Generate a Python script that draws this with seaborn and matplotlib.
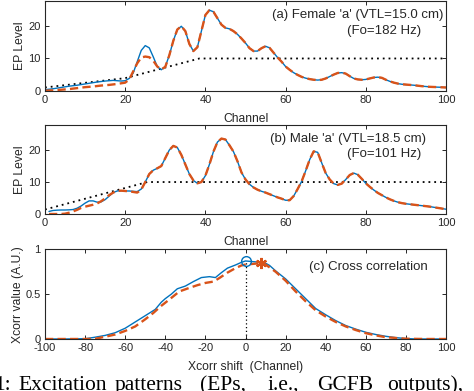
import matplotlib
matplotlib.use('Agg')
import matplotlib.pyplot as plt
import pandas as pd
import seaborn as sns

# ---------------- data ----------------
# Panel (a): Female 'a'
chan_a = list(range(0, 91)) + [92, 94, 96, 98, 100]
blue_a = [0.3, 0.45, 0.6, 0.8, 1.0, 1.2, 1.4, 1.55, 1.7, 1.9,
          2.1, 2.3, 2.5, 2.7, 2.85, 3.0, 3.1, 3.2, 3.1, 3.0,
          3.1, 3.8, 5.5, 9.0, 12.5, 14.0, 13.3, 10.5, 7.5, 6.5,
          7.5, 11.0, 15.5, 19.0, 20.0, 18.5, 14.5, 12.3, 13.5, 18.5,
          23.5, 25.0, 24.5, 22.5, 20.5, 19.5, 19.2, 18.5, 17.5, 16.2,
          14.8, 13.2, 12.3, 12.3, 13.2, 13.8, 13.3, 11.8, 10.3, 9.0,
          7.5, 6.5, 5.6, 4.9, 4.3, 3.9, 3.6, 3.4, 3.3, 3.4,
          3.8, 4.4, 5.0, 5.5, 5.6, 5.3, 4.5, 3.8, 3.5, 3.4,
          3.5, 3.8, 4.1, 4.2, 4.0, 3.4, 2.9, 2.5, 2.2, 2.0,
          1.9, 1.7, 1.4, 1.2, 1.1, 1.0]
orange_a_low_x = [0, 2, 4, 6, 8, 10, 12, 14, 16, 18, 20, 21, 22, 23, 24, 25, 26, 27, 28, 29, 30]
orange_a_low = [0.0, 0.1, 0.3, 0.5, 0.8, 1.1, 1.3, 1.6, 1.8, 2.1, 2.5, 3.5, 6.0, 8.5,
                10.3, 10.6, 10.4, 9.3, 7.5, 6.6, 7.4]
thr_a_x = [0, 20, 38.5, 100]
thr_a = [1.0, 3.9, 10.0, 10.0]

# Panel (b): Male 'a'
chan_b = list(range(1, 91)) + [92, 94, 96, 98, 100]
blue_b = [0.8, 1.1, 1.2, 1.25, 1.25, 1.3, 1.4, 1.8, 2.5, 3.4,
          4.1, 4.1, 3.7, 3.8, 4.5, 5.6, 6.7, 7.2, 7.3, 7.2,
          7.2, 7.1, 7.0, 7.8, 10.0, 12.5, 13.7, 14.3, 15.0, 17.5,
          20.0, 21.3, 20.8, 18.5, 15.5, 12.5, 10.5, 9.6, 10.0, 12.0,
          15.5, 19.5, 22.5, 23.6, 23.3, 21.5, 19.5, 16.5, 13.0, 10.8,
          9.3, 8.3, 7.6, 7.1, 6.7, 6.2, 5.7, 5.2, 4.8, 4.3,
          4.3, 5.6, 7.8, 10.2, 13.5, 17.0, 19.6, 19.3, 16.0, 12.8,
          10.8, 9.5, 9.1, 9.5, 10.8, 12.2, 12.8, 12.3, 11.0, 9.6,
          8.5, 7.5, 6.6, 5.9, 5.2, 4.6, 4.1, 3.7, 3.4, 3.2,
          2.9, 2.6, 2.3, 1.9, 1.5]
orange_b_low_x = list(range(1, 25))
orange_b_low = [0.0, 0.0, 0.0, 0.0, 0.1, 0.4, 0.8, 1.3, 1.9, 2.3,
                2.6, 2.9, 3.3, 4.0, 4.9, 5.9, 6.7, 7.2, 7.3, 7.2,
                7.1, 6.9, 6.7, 7.6]
thr_b_x = [0, 25.5, 100]
thr_b = [1.4, 10.0, 10.0]

# Panel (c): cross correlation
shift_blue = [-100, -90, -80, -75, -70, -65, -60, -55, -50, -45, -42, -40, -37, -34,
              -30, -26, -22, -18, -15, -12, -9, -5, -2, 0, 5, 10, 12, 15, 20, 25,
              30, 35, 40, 45, 50, 55, 60, 65, 70, 75, 80, 85, 90, 100]
xcorr_blue = [0.0, 0.0, 0.003, 0.02, 0.04, 0.07, 0.12, 0.19, 0.26, 0.33, 0.41, 0.45, 0.50, 0.56,
              0.59, 0.64, 0.685, 0.695, 0.685, 0.74, 0.79, 0.825, 0.855, 0.87, 0.86, 0.845, 0.82,
              0.76, 0.67, 0.56, 0.45, 0.34, 0.27, 0.205, 0.15, 0.11, 0.075, 0.05, 0.03, 0.015,
              0.005, 0.0, 0.0, 0.0]
shift_orange = [-100, -90, -80, -75, -70, -65, -60, -55, -50, -46, -42, -38, -33, -28,
                -24, -20, -16, -13, -9, -5, -2, 0, 5, 7.5, 10, 15, 20, 25, 30, 35,
                40, 45, 50, 55, 60, 65, 70, 80, 90, 100]
xcorr_orange = [0.0, 0.0, 0.0, 0.003, 0.025, 0.05, 0.09, 0.14, 0.22, 0.29, 0.37, 0.44, 0.53, 0.57,
                0.60, 0.625, 0.64, 0.68, 0.74, 0.79, 0.82, 0.83, 0.84, 0.845, 0.83, 0.75, 0.65,
                0.53, 0.42, 0.32, 0.25, 0.19, 0.14, 0.10, 0.065, 0.04, 0.02, 0.003, 0.0, 0.0]
peak_blue = (0, 0.87)
peak_orange = (7.5, 0.845)

# caption words (justified line of the paper caption, cut off by the crop)
caption_words = ["1:", "Excitation", "patterns", "(EPs,", "i.e.,", "GCFB", "outputs),"]
caption_word_px = [-6, 18, 115, 200, 267, 317, 387]

# ---------------- style ----------------
sns.set_style('ticks')
plt.rcParams['font.family'] = ['Liberation Sans', 'DejaVu Sans']
plt.rcParams['axes.unicode_minus'] = False
TXT = '#262626'
BLUE = '#0072BD'
ORANGE = '#D95319'
DASH = (0, (3.5, 1.8))
DOT = (0, (1, 2.2))

W, H = 474, 391
fig = plt.figure(figsize=(W / 100, H / 100), dpi=100)


def px_axes(left, top, right, bottom):
    return fig.add_axes([left / W, 1 - bottom / H, (right - left) / W, (bottom - top) / H])


def style(ax):
    ax.tick_params(direction='in', top=True, right=True, length=3, width=0.7,
                   colors=TXT, labelsize=8, pad=3)
    for s in ax.spines.values():
        s.set_linewidth(0.8)
        s.set_color(TXT)
        s.set_visible(True)


def lineplot(ax, x, y, **kw):
    df = pd.DataFrame({'x': x, 'y': y})
    sns.lineplot(data=df, x='x', y='y', ax=ax, sort=False, estimator=None, **kw)


XLP = 5.5
YLP = 1.5

# Panel (a)
ax1 = px_axes(45, 0.5, 446, 90.7)
orange_a_x = orange_a_low_x + [c for c in chan_a if c > 30]
orange_a = orange_a_low + [b for c, b in zip(chan_a, blue_a) if c > 30]
lineplot(ax1, thr_a_x, thr_a, color='black', lw=1.3, linestyle=DOT)
lineplot(ax1, chan_a, blue_a, color=BLUE, lw=1.0)
lineplot(ax1, orange_a_x, orange_a, color=ORANGE, lw=1.7, linestyle=DASH)
ax1.set_xlim(0, 100)
ax1.set_ylim(0, 28)
ax1.set_xticks([0, 20, 40, 60, 80, 100])
ax1.set_yticks([0, 10, 20])
ax1.set_xlabel('Channel', fontsize=8.7, color=TXT, labelpad=XLP)
ax1.set_ylabel('EP Level', fontsize=8.7, color=TXT, labelpad=YLP)
ax1.text(99.3, 23.5, "(a) Female 'a' (VTL=15.0 cm)", ha='right', va='center', fontsize=9.5, color=TXT)
ax1.text(93.8, 18.4, "(Fo=182 Hz)", ha='right', va='center', fontsize=9.5, color=TXT)
style(ax1)

# Panel (b)
ax2 = px_axes(45, 124.5, 446, 214)
orange_b_x = orange_b_low_x + [c for c in chan_b if c > 24]
orange_b = orange_b_low + [b for c, b in zip(chan_b, blue_b) if c > 24]
lineplot(ax2, thr_b_x, thr_b, color='black', lw=1.3, linestyle=DOT)
lineplot(ax2, chan_b, blue_b, color=BLUE, lw=1.0)
lineplot(ax2, orange_b_x, orange_b, color=ORANGE, lw=1.7, linestyle=DASH)
ax2.set_xlim(0, 100)
ax2.set_ylim(0, 28)
ax2.set_xticks([0, 20, 40, 60, 80, 100])
ax2.set_yticks([0, 10, 20])
ax2.set_xlabel('Channel', fontsize=8.7, color=TXT, labelpad=XLP)
ax2.set_ylabel('EP Level', fontsize=8.7, color=TXT, labelpad=YLP)
ax2.text(94.9, 23.4, "(b) Male 'a' (VTL=18.5 cm)", ha='right', va='center', fontsize=9.5, color=TXT)
ax2.text(93.8, 18.7, "(Fo=101 Hz)", ha='right', va='center', fontsize=9.5, color=TXT)
style(ax2)

# Panel (c)
ax3 = px_axes(45, 249.3, 446, 339)
ax3.plot([peak_blue[0], peak_blue[0]], [0, peak_blue[1]], color='black', lw=0.9, linestyle=(0, (1, 2)))
lineplot(ax3, shift_blue, xcorr_blue, color=BLUE, lw=1.0)
lineplot(ax3, shift_orange, xcorr_orange, color=ORANGE, lw=1.7, linestyle=DASH)
ax3.plot([peak_blue[0]], [peak_blue[1]], marker='o', ms=7, mfc='none', mec=BLUE, mew=1.0)
ax3.plot([peak_orange[0]], [peak_orange[1]], marker=(6, 2, 0), ms=8, mec=ORANGE, mew=1.6)
ax3.set_xlim(-100, 100)
ax3.set_ylim(0, 1)
ax3.set_xticks(list(range(-100, 101, 20)))
ax3.set_yticks([0, 0.5, 1])
ax3.set_yticklabels(['0', '0.5', '1'])
ax3.set_xlabel('Xcorr shift  (Channel)', fontsize=8.7, color=TXT, labelpad=XLP)
ax3.set_ylabel('Xcorr value (A.U.)', fontsize=8.7, color=TXT, labelpad=YLP)
ax3.text(90.7, 0.806, "(c) Cross correlation", ha='right', va='center', fontsize=9.5, color=TXT)
style(ax3)

# cropped, justified caption line of the paper figure
for word, xp in zip(caption_words, caption_word_px):
    fig.text(xp / W, (H - 390.0) / H, word, fontsize=15.5,
             family=['Liberation Serif', 'DejaVu Serif'], color='black',
             ha='left', va='baseline')

fig.savefig('out.png', dpi=100)
